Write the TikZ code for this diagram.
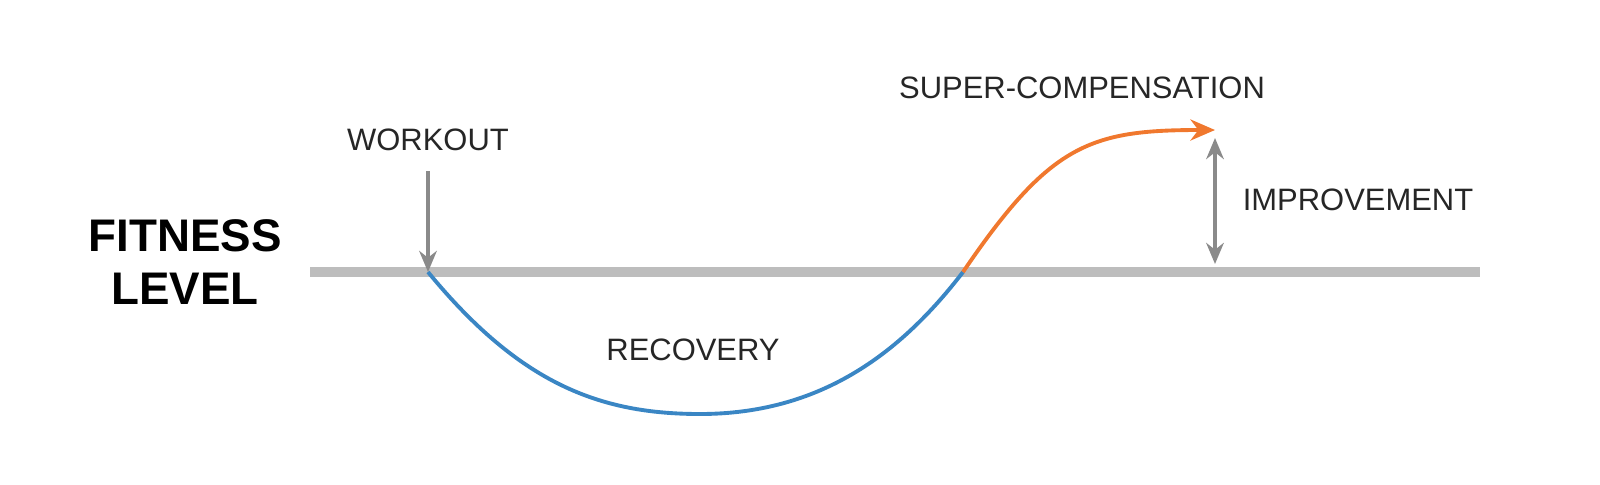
\documentclass[tikz,border=0pt]{standalone}
\usepackage{fontspec}
\setmainfont{Liberation Sans}
\usetikzlibrary{arrows.meta}
\definecolor{base}{HTML}{BDBDBD}
\definecolor{arr}{HTML}{8A8A8A}
\definecolor{blu}{HTML}{3A86C4}
\definecolor{ora}{HTML}{F0782E}
\begin{document}
\begin{tikzpicture}[x=0.01cm,y=0.01cm,
  lbl/.style={font=\fontsize{8.8pt}{10pt}\selectfont, text=black!85},
  garrow/.style={arr, line width=1pt, -{Stealth[length=6pt,width=5pt]}}]
\useasboundingbox (0,0) rectangle (1600,484);
\coordinate (L) at (310,212);
\coordinate (R) at (1480,212);
\coordinate (W) at (428,212);
\coordinate (M) at (700,70);
\coordinate (C) at (963,212);
\coordinate (P) at (1215,354);
\coordinate (Itop) at (1215,346);
\coordinate (Ibot) at (1215,220);
\draw[base, line width=3pt] (L) -- (R);
\node[font=\fontsize{13pt}{15pt}\selectfont\bfseries, align=center] (fit) at (185,222) {FITNESS\\LEVEL};
\node[lbl] (wk) at (428,344) {WORKOUT};
\draw[garrow] (wk.south) ++(0,-8) coordinate (wks) -- (W);
\draw[blu, line width=1.1pt] (W) .. controls (520,100) and (600,70) .. (M) .. controls (820,70) and (900,130) .. (C);
\draw[ora, line width=1.1pt, -{Stealth[length=7pt,width=6pt]}] (C) .. controls (1050,340) and (1090,354) .. (P);
\draw[arr, line width=1pt, {Stealth[length=6pt,width=5pt]}-{Stealth[length=6pt,width=5pt]}] (Itop) -- (Ibot);
\node[lbl] (imp) at (1358,284) {IMPROVEMENT};
\node[lbl] (sc) at (1082,396) {SUPER-COMPENSATION};
\node[lbl] (rec) at (693,134) {RECOVERY};
\end{tikzpicture}
\end{document}
